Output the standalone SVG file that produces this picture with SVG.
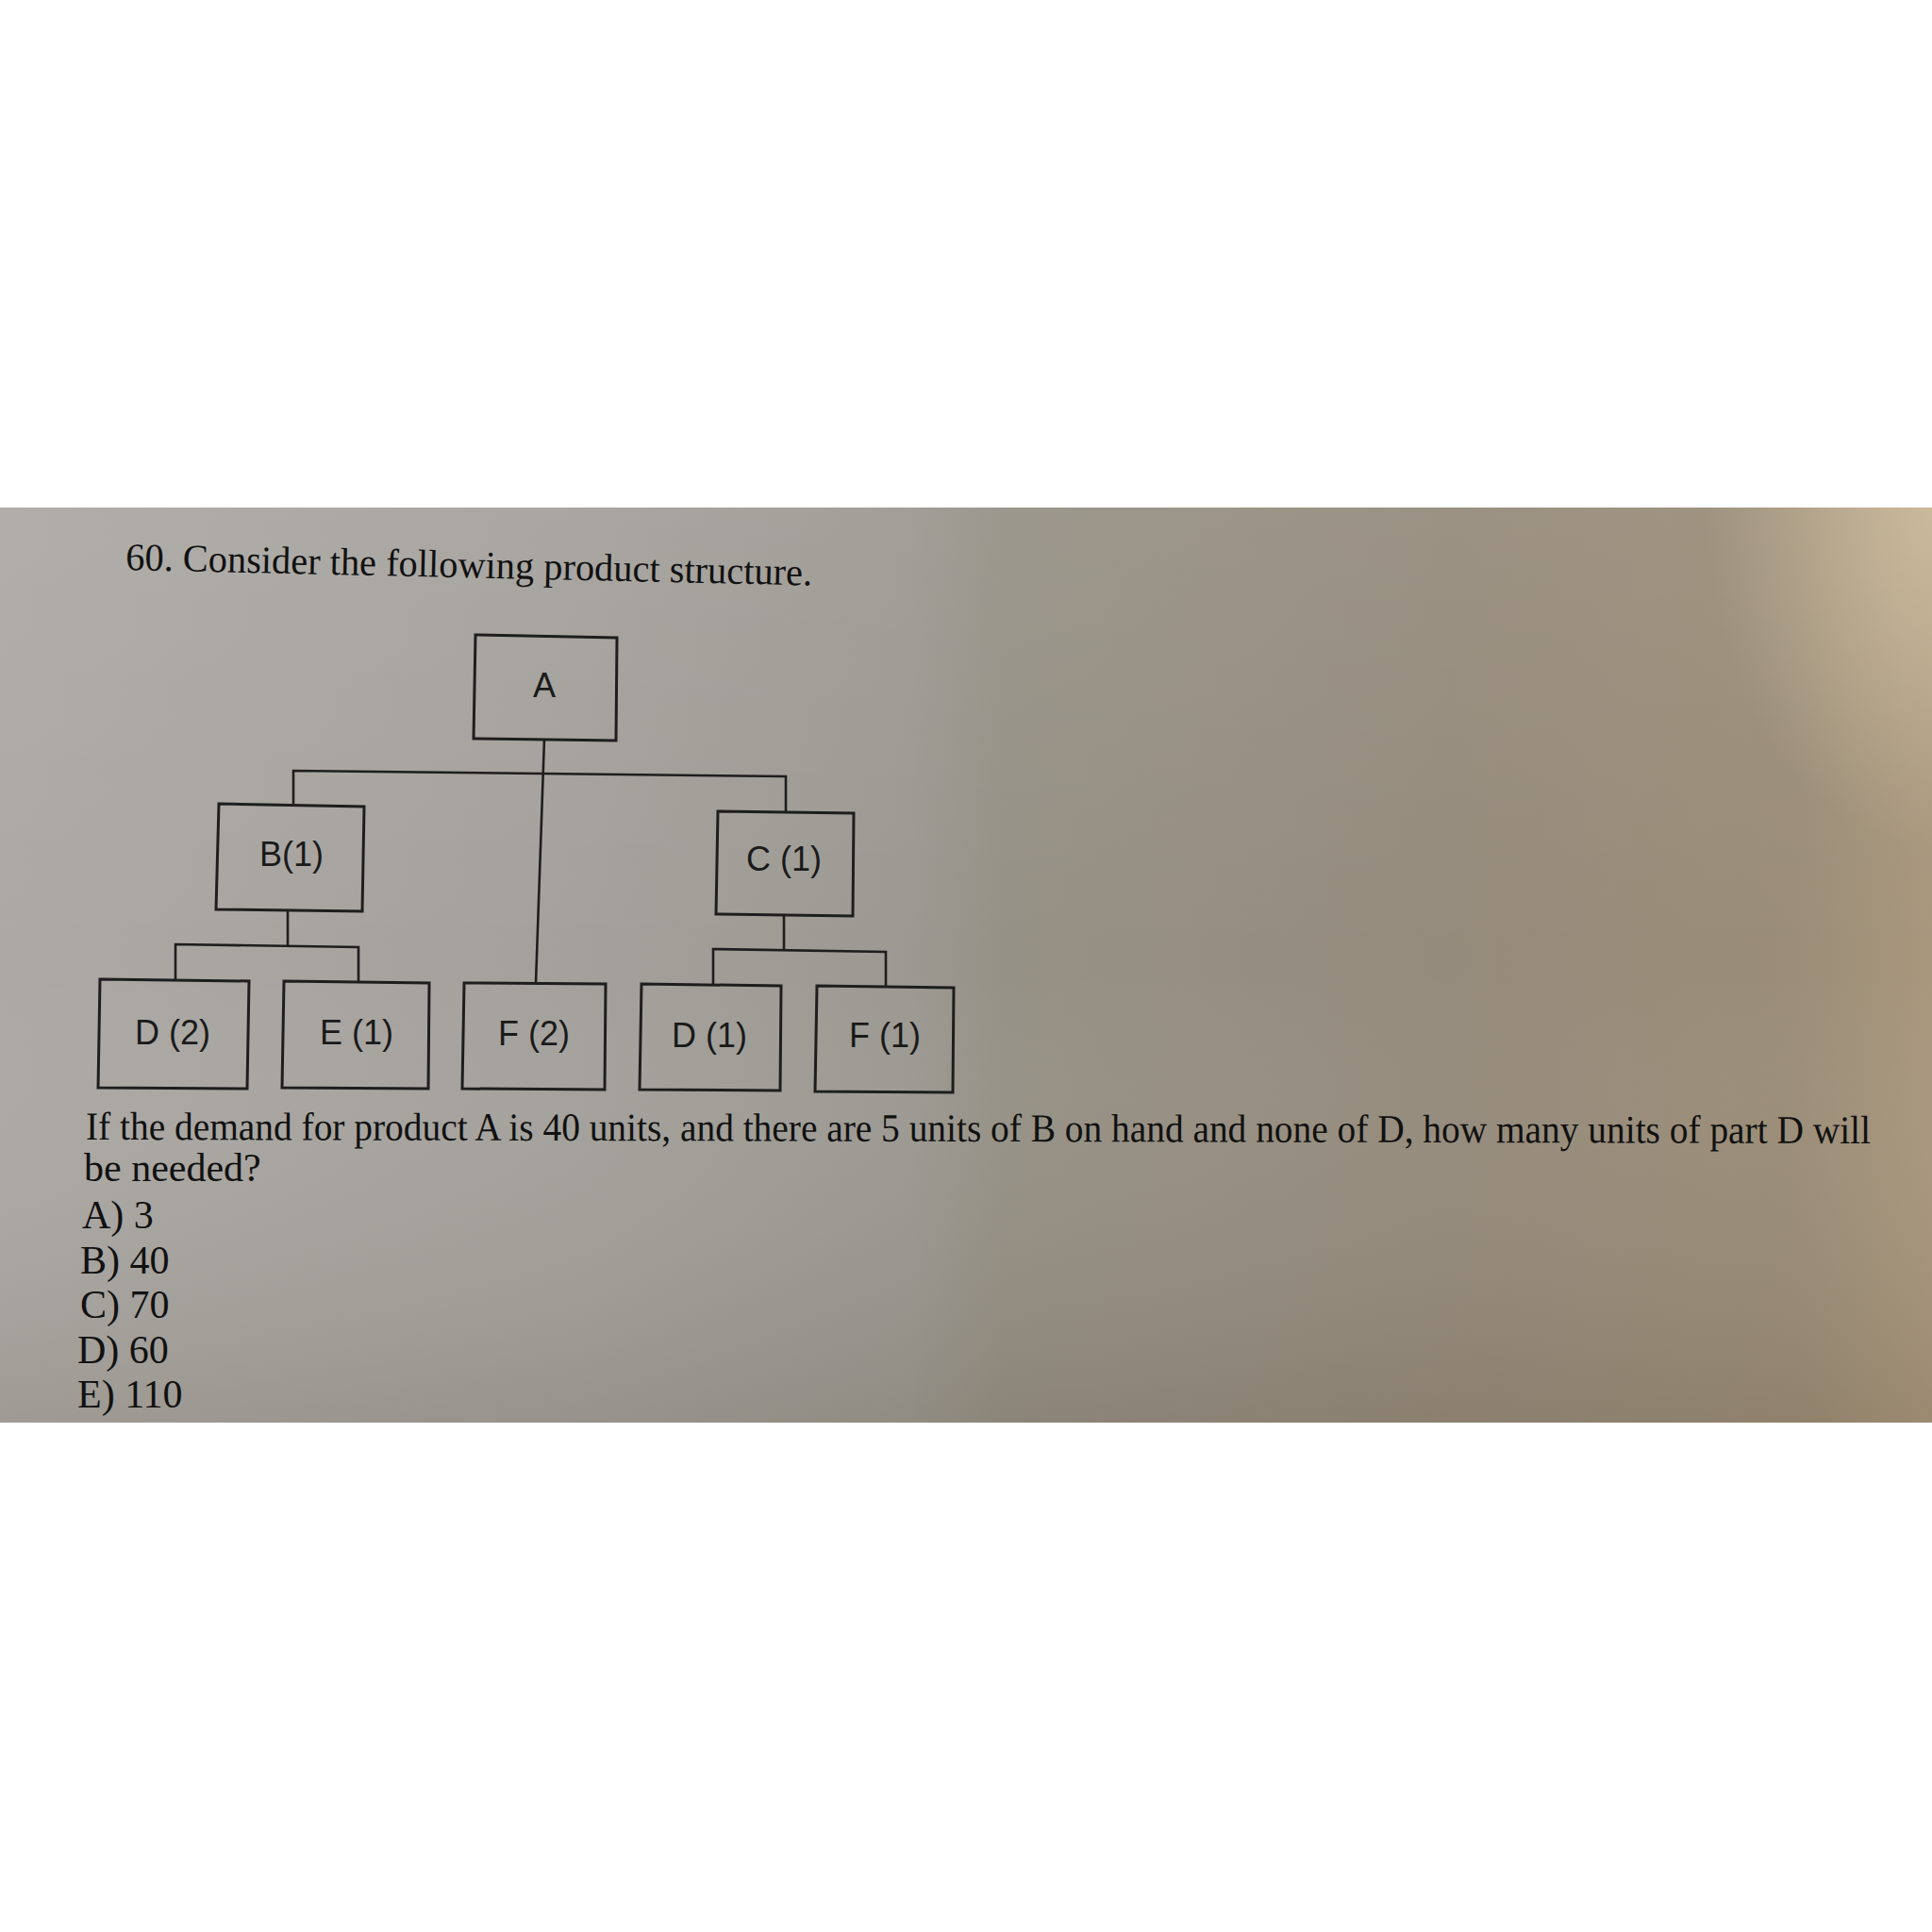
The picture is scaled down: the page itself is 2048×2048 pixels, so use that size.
<svg xmlns="http://www.w3.org/2000/svg" width="2048" height="2048" viewBox="0 0 2048 2048">
  <defs>
    <linearGradient id="bgH" x1="0" y1="0" x2="1" y2="0">
      <stop offset="0" stop-color="#aca9a5"/>
      <stop offset="0.3" stop-color="#a4a19c"/>
      <stop offset="0.47" stop-color="#9c9992"/>
      <stop offset="0.52" stop-color="#969186"/>
      <stop offset="0.75" stop-color="#958b7c"/>
      <stop offset="0.93" stop-color="#9b8d77"/>
      <stop offset="1" stop-color="#a8977d"/>
    </linearGradient>
    <linearGradient id="bgV" x1="0" y1="0" x2="0" y2="1">
      <stop offset="0" stop-color="#ffffff" stop-opacity="0.06"/>
      <stop offset="0.5" stop-color="#ffffff" stop-opacity="0"/>
      <stop offset="1" stop-color="#3c2a14" stop-opacity="0.12"/>
    </linearGradient>
    <radialGradient id="hl" cx="2048" cy="538" r="300" gradientUnits="userSpaceOnUse" gradientTransform="translate(2048 538) scale(0.8 1.2) translate(-2048 -538)">
      <stop offset="0" stop-color="#d4c3a3" stop-opacity="0.75"/>
      <stop offset="1" stop-color="#d4c3a3" stop-opacity="0"/>
    </radialGradient>
    <style>
      .box { fill: none; stroke: #1e1e1e; stroke-width: 3; }
      .con { fill: none; stroke: #1e1e1e; stroke-width: 2.6; }
      .lbl { font-family: "Liberation Sans", Arial, sans-serif; font-size: 36px; fill: #1a1a1a; text-anchor: middle; }
      .txt { font-family: "Liberation Serif", "Times New Roman", serif; font-size: 42px; fill: #111111; }
      .ttl { font-family: "Liberation Serif", "Times New Roman", serif; font-size: 41px; fill: #111111; }
    </style>
  </defs>

  <rect x="0" y="0" width="2048" height="2048" fill="#ffffff"/>
  <rect x="0" y="538" width="2048" height="970" fill="url(#bgH)"/>
  <rect x="0" y="538" width="2048" height="970" fill="url(#bgV)"/>
  <rect x="0" y="538" width="2048" height="970" fill="url(#hl)"/>

  <text class="ttl" x="133" y="604" textLength="728" lengthAdjust="spacingAndGlyphs" transform="rotate(1.3 133 604)">60. Consider the following product structure.</text>

  <g id="connectors">
    <line class="con" x1="577" y1="783" x2="568" y2="1042"/>
    <polyline class="con" points="311,852 311,817 833,823 833,860"/>
    <line class="con" x1="305" y1="965" x2="305" y2="1002"/>
    <polyline class="con" points="186,1038 186,1001 380,1004 380,1040"/>
    <line class="con" x1="831" y1="970" x2="831" y2="1007"/>
    <polyline class="con" points="756,1043 756,1006 939,1009 939,1045"/>
  </g>

  <g id="node-A">
    <polygon class="box" points="504,673 654,676 653,785 502,783"/>
    <text class="lbl" x="577" y="739">A</text>
  </g>
  <g id="node-B">
    <polygon class="box" points="232,852 386,855 384,966 229,964"/>
    <text class="lbl" x="309" y="918">B(1)</text>
  </g>
  <g id="node-C">
    <polygon class="box" points="761,860 905,862 904,971 759,969"/>
    <text class="lbl" x="831" y="923">C (1)</text>
  </g>
  <g id="node-D2">
    <polygon class="box" points="106,1038 264,1040 262,1154 104,1153"/>
    <text class="lbl" x="183" y="1107">D (2)</text>
  </g>
  <g id="node-E1">
    <polygon class="box" points="301,1040 455,1042 454,1154 299,1153"/>
    <text class="lbl" x="378" y="1107">E (1)</text>
  </g>
  <g id="node-F2">
    <polygon class="box" points="492,1042 642,1043 641,1155 490,1154"/>
    <text class="lbl" x="566" y="1108">F (2)</text>
  </g>
  <g id="node-D1">
    <polygon class="box" points="680,1043 828,1045 827,1156 678,1155"/>
    <text class="lbl" x="752" y="1110">D (1)</text>
  </g>
  <g id="node-F1">
    <polygon class="box" points="866,1045 1011,1047 1010,1158 864,1157"/>
    <text class="lbl" x="938" y="1110">F (1)</text>
  </g>

  <text class="txt" x="91" y="1208" textLength="1892" lengthAdjust="spacingAndGlyphs" transform="rotate(0.12 91 1208)">If the demand for product A is 40 units, and there are 5 units of B on hand and none of D, how many units of part D will</text>
  <text class="txt" x="89" y="1252">be needed?</text>
  <text class="txt" x="87" y="1302">A) 3</text>
  <text class="txt" x="85" y="1350">B) 40</text>
  <text class="txt" x="85" y="1397">C) 70</text>
  <text class="txt" x="82" y="1445">D) 60</text>
  <text class="txt" x="82" y="1492">E) 110</text>
</svg>
